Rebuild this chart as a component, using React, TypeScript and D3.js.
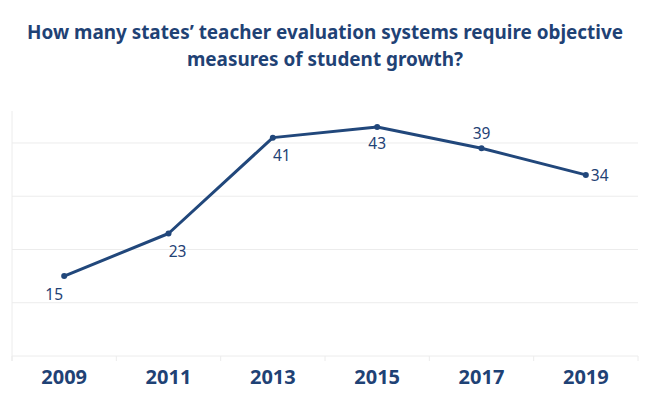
import React from "react";
import * as d3 from "d3";

const years = ["2009", "2011", "2013", "2015", "2017", "2019"];
const states = [15, 23, 41, 43, 39, 34];
const labelPlacement = ["below-left", "below-right", "below-right", "below", "above", "right"];
const yGridValues = [10, 20, 30, 40];
const titleLines = [
  "How many states\u2019 teacher evaluation systems require objective",
  "measures of student growth?",
];

const W = 649;
const H = 399;
const left = 12;
const right = 638;
const top = 111;
const bottom = 356;
const navy = "#21477b";
const textColor = "#1f4275";
const grid = "#ececec";

export default function App() {
  const x = d3.scaleBand<string>().domain(years).range([left, right]).padding(0);
  const y = d3.scaleLinear().domain([0, 46]).range([bottom, top]);
  const cx = (yr: string) => (x(yr) as number) + x.bandwidth() / 2;
  const line = d3
    .line<number>()
    .x((_, i) => cx(years[i]))
    .y((d) => y(d));

  const boundaries = years.map((yr) => x(yr) as number).concat([right]);

  const labelPos = (p: string, px: number, py: number) => {
    switch (p) {
      case "below-left":
        return { x: px - 10, y: py + 24, anchor: "middle" };
      case "below-right":
        return { x: px + 9, y: py + 23, anchor: "middle" };
      case "below":
        return { x: px, y: py + 22, anchor: "middle" };
      case "above":
        return { x: px, y: py - 9, anchor: "middle" };
      default:
        return { x: px + 5, y: py + 6, anchor: "start" };
    }
  };

  return (
    <svg width={W} height={H} style={{ position: "absolute", left: 0, top: 0, background: "#fff" }}>
      <g fontFamily="'Noto Sans', sans-serif">
        {titleLines.map((t, i) => (
          <text
            key={i}
            x={325}
            y={39 + i * 27}
            textAnchor="middle"
            fontSize={18.9}
            fontWeight={700}
            fill={textColor}
          >
            {t}
          </text>
        ))}
        {yGridValues.map((v) => (
          <line key={v} x1={left} x2={right} y1={y(v)} y2={y(v)} stroke={grid} strokeWidth={1} />
        ))}
        <line x1={left} x2={left} y1={top} y2={bottom + 5} stroke={grid} strokeWidth={1} />
        <line x1={left} x2={right} y1={bottom} y2={bottom} stroke={grid} strokeWidth={1} />
        {boundaries.map((b, i) => (
          <line key={i} x1={b} x2={b} y1={bottom} y2={bottom + 5} stroke={grid} strokeWidth={1} />
        ))}
        <path d={line(states) || ""} fill="none" stroke={navy} strokeWidth={3} strokeLinejoin="round" />
        {states.map((v, i) => (
          <circle key={i} cx={cx(years[i])} cy={y(v)} r={3} fill={navy} />
        ))}
        {states.map((v, i) => {
          const p = labelPos(labelPlacement[i], cx(years[i]), y(v));
          return (
            <text key={i} x={p.x} y={p.y} textAnchor={p.anchor} fontSize={15.5} fill={textColor}>
              {v}
            </text>
          );
        })}
        {years.map((yr) => (
          <text key={yr} x={cx(yr)} y={384} textAnchor="middle" fontSize={20} fontWeight={700} fill={textColor}>
            {yr}
          </text>
        ))}
      </g>
    </svg>
  );
}
